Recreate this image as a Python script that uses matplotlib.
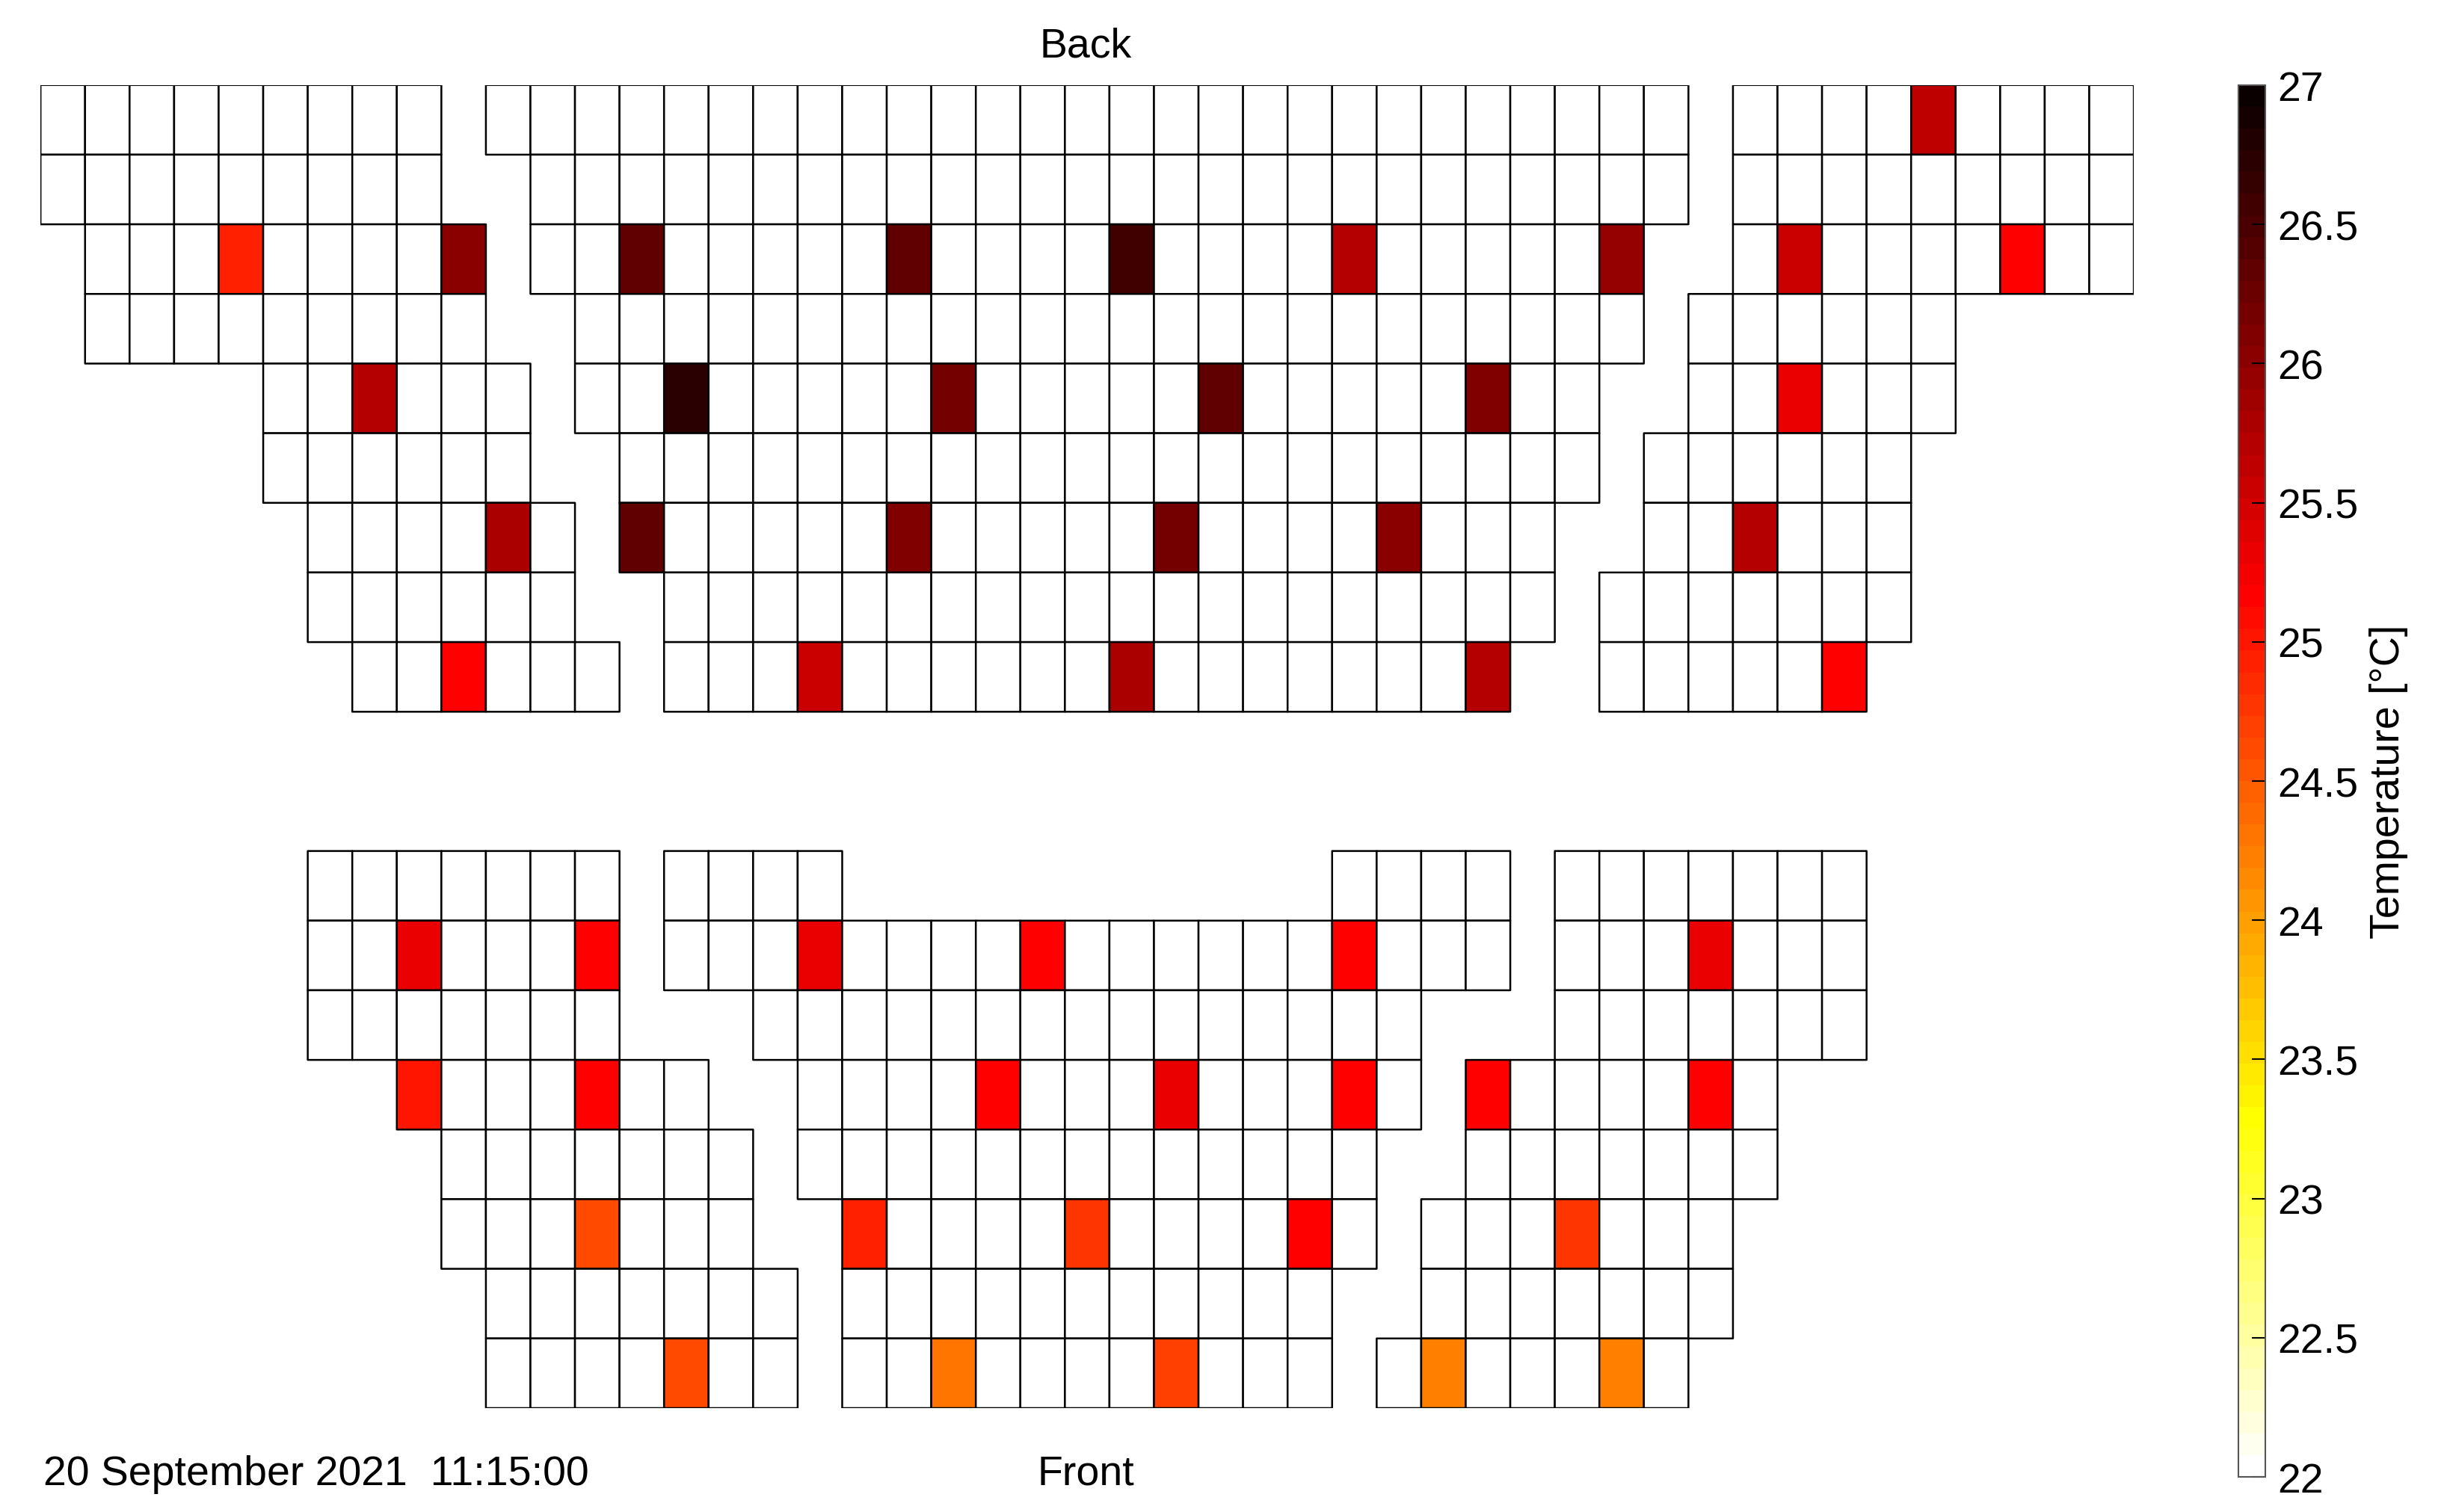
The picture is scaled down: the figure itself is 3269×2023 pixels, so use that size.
import numpy as np
import matplotlib
matplotlib.use('Agg')
import matplotlib.pyplot as plt
from matplotlib.colors import ListedColormap
from matplotlib.ticker import FormatStrFormatter

plt.rcParams['font.family'] = ['Liberation Sans', 'DejaVu Sans']

# seat blocks per row: (first column, last column), rows 0-8 back, 11-18 front
seat_rows = {
    0: [(0, 8), (10, 36), (38, 46)],
    1: [(0, 8), (11, 36), (38, 46)],
    2: [(1, 9), (11, 35), (38, 46)],
    3: [(1, 9), (12, 35), (37, 42)],
    4: [(5, 10), (12, 34), (37, 42)],
    5: [(5, 10), (13, 34), (36, 41)],
    6: [(6, 11), (13, 33), (36, 41)],
    7: [(6, 11), (14, 33), (35, 41)],
    8: [(7, 12), (14, 32), (35, 40)],
    11: [(6, 12), (14, 17), (29, 32), (34, 40)],
    12: [(6, 12), (14, 32), (34, 40)],
    13: [(6, 12), (16, 30), (34, 40)],
    14: [(8, 14), (17, 30), (32, 38)],
    15: [(9, 15), (17, 29), (32, 38)],
    16: [(9, 15), (18, 29), (31, 37)],
    17: [(10, 16), (18, 28), (31, 37)],
    18: [(10, 16), (18, 28), (30, 36)],
}

# sensor seats
sensor_rows = [0,
               2, 2, 2, 2, 2, 2, 2, 2, 2,
               4, 4, 4, 4, 4, 4,
               6, 6, 6, 6, 6, 6,
               8, 8, 8, 8, 8,
               12, 12, 12, 12, 12, 12,
               14, 14, 14, 14, 14, 14, 14,
               16, 16, 16, 16, 16,
               18, 18, 18, 18, 18]
sensor_cols = [42,
               4, 9, 13, 19, 24, 29, 35, 39, 44,
               7, 14, 20, 26, 32, 39,
               10, 13, 19, 25, 30, 38,
               9, 17, 24, 32, 40,
               8, 12, 17, 22, 29, 37,
               8, 12, 21, 25, 29, 32, 37,
               12, 18, 23, 28, 34,
               14, 20, 25, 31, 35]
sensor_temps = [25.6,
                24.9, 26.0, 26.3, 26.3, 26.6, 25.7, 25.95, 25.55, 25.15,
                25.7, 26.75, 26.15, 26.35, 26.1, 25.35,
                25.8, 26.3, 26.1, 26.2, 26.05, 25.7,
                25.2, 25.55, 25.8, 25.7, 25.15,
                25.3, 25.2, 25.35, 25.2, 25.2, 25.3,
                25.0, 25.2, 25.2, 25.35, 25.2, 25.15, 25.15,
                24.6, 24.9, 24.75, 25.2, 24.75,
                24.6, 24.3, 24.7, 24.25, 24.2]

t_min, t_max = 22, 27
timestamp = '20 September 2021  11:15:00'

n_rows, n_cols = 19, 47
grid = np.full((n_rows, n_cols), np.nan)
for r, blocks in seat_rows.items():
    for c0, c1 in blocks:
        grid[r, c0:c1 + 1] = t_min
for r, c, t in zip(sensor_rows, sensor_cols, sensor_temps):
    grid[r, c] = t

# flipped matlab-style hot(64)
m = 64
n = 24
red = np.r_[np.arange(1, n + 1) / n, np.ones(m - n)]
green = np.r_[np.zeros(n), np.arange(1, n + 1) / n, np.ones(m - 2 * n)]
blue = np.r_[np.zeros(2 * n), np.arange(1, m - 2 * n + 1) / (m - 2 * n)]
cmap = ListedColormap(np.column_stack([red, green, blue])[::-1])

fig = plt.figure(figsize=(32.69, 20.24), dpi=100)
ax = fig.add_axes([0.01658, 0.0687, 0.8565, 0.8746])
mesh = ax.pcolor(np.arange(n_cols + 1), np.arange(n_rows + 1),
                 np.ma.masked_invalid(grid), cmap=cmap, vmin=t_min, vmax=t_max,
                 edgecolors='black', linewidth=1.8)
ax.set_xlim(0, n_cols)
ax.set_ylim(n_rows, 0)
ax.axis('off')

cax = fig.add_axes([0.9159, 0.0232, 0.011, 0.92])
cbar = fig.colorbar(mesh, cax=cax, ticks=np.arange(22, 27.01, 0.5))
cbar.ax.yaxis.set_major_formatter(FormatStrFormatter('%g'))
cbar.ax.tick_params(labelsize=40, direction='in', length=13, width=1.5, pad=12)
cbar.outline.set_edgecolor('#555555')
cbar.outline.set_linewidth(1.5)
cbar.set_label('Temperature [°C]', fontsize=40, labelpad=10)

fig.text(0.4442, 0.962, 'Back', fontsize=40, ha='center', va='baseline')
fig.text(0.4442, 0.0183, 'Front', fontsize=40, ha='center', va='baseline')
fig.text(0.0177, 0.0183, timestamp, fontsize=40, ha='left', va='baseline')

fig.savefig('out.png', dpi=100)
